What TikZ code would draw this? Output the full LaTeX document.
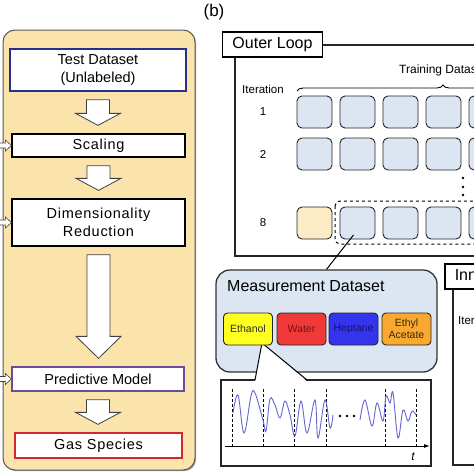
\documentclass[tikz,border=0pt]{standalone}
\usepackage{fontspec}
\setmainfont{Liberation Sans}
\newfontfamily\widefont[LetterSpace=5]{Liberation Sans}
\usetikzlibrary{positioning,calc,shadows,arrows.meta,decorations.pathreplacing}

\definecolor{panel}{RGB}{250,228,172}
\definecolor{cell}{RGB}{220,230,242}
\definecolor{celltan}{RGB}{252,235,196}
\definecolor{navy}{RGB}{43,47,140}
\definecolor{purp}{RGB}{106,76,156}
\definecolor{redb}{RGB}{208,40,46}
\definecolor{ethfill}{RGB}{255,255,31}
\definecolor{watfill}{RGB}{240,58,58}
\definecolor{hepfill}{RGB}{52,52,238}
\definecolor{eacfill}{RGB}{249,168,48}
\definecolor{ethtext}{RGB}{42,42,42}
\definecolor{wattext}{RGB}{122,16,16}
\definecolor{heptext}{RGB}{20,20,104}
\definecolor{eactext}{RGB}{58,42,16}
\definecolor{signal}{RGB}{100,100,210}

\tikzset{
  softshadow/.style={drop shadow={shadow xshift=1.2pt, shadow yshift=-1.2pt, opacity=0.35, fill=black}},
  panelbox/.style={draw=black!65, line width=1pt, fill=panel, rounded corners=12pt, softshadow},
  stepbox/.style={draw=black, line width=1.3pt, fill=white, inner sep=0pt, softshadow,
    font=\fontsize{14.5}{17.5}\selectfont},
  fatline/.style={draw=black!75, line width=0.8pt, fill=white},
  framebox/.style={draw=black!85, line width=1.3pt, fill=white, softshadow},
  titlebox/.style={draw=black, line width=1.5pt, fill=white, inner xsep=10pt, minimum height=25pt,
    font=\fontsize{16}{19}\selectfont},
  iterlabel/.style={font=\fontsize{11.5}{13}\selectfont, inner sep=0pt},
  cellbox/.style={draw=black!85, line width=0.9pt, fill=cell, rounded corners=5pt,
    minimum width=35pt, minimum height=32pt, inner sep=0pt},
  gasbox/.style={draw=black!85, line width=0.9pt, rounded corners=4pt, minimum width=49pt,
    minimum height=32pt, inner sep=0pt, align=center, font=\fontsize{10.5}{12}\selectfont},
  tick/.style={black, line width=0.9pt, dash pattern=on 3pt off 2pt},
}

% block arrow between two boxes of the pipeline
\newcommand\fatarrow[3][12pt]{%
  \draw[fatline] let \p1=($(#2.south)+(0,8)$), \p2=($(#3.north)+(0,-8)$) in
    (\x1-11.5pt,\y1) -- (\x1+11.5pt,\y1) -- (\x1+11.5pt,\y2+#1) -- (\x1+22.5pt,\y2+#1)
    -- (\x1,\y2) -- (\x1-22.5pt,\y2+#1) -- (\x1-11.5pt,\y2+#1) -- cycle;}
% small arrow coming in from the left
\newcommand\sidearrow[1]{%
  \draw[fatline, line width=0.6pt] let \p1=(#1.west) in
    (\x1-13pt,\y1+2.5pt) -- (\x1-6pt,\y1+2.5pt) -- (\x1-6pt,\y1+5.5pt) -- (\x1,\y1)
    -- (\x1-6pt,\y1-5.5pt) -- (\x1-6pt,\y1-2.5pt) -- (\x1-13pt,\y1-2.5pt) -- cycle;}

\begin{document}
\begin{tikzpicture}[x=1pt, y=-1pt]
  \useasboundingbox (0,0) rectangle (474,474);
  \clip (0,0) rectangle (474,474);

  % (a) prediction pipeline
  \node[panelbox, minimum width=192pt, minimum height=440pt] (panel) at (99,250) {};
  \node[stepbox, draw=navy, minimum width=176pt, minimum height=42pt, align=center]
    (test) at (98,70) {Test Dataset\\(Unlabeled)};
  \node[stepbox, minimum width=173pt, minimum height=23pt] (scale) at (98.5,145.5) {\widefont Scaling};
  \node[stepbox, minimum width=173pt, minimum height=47pt, align=center]
    (dimred) at (98.5,222.5) {\widefont Dimensionality\\\widefont Reduction};
  \node[stepbox, draw=purp, minimum width=172pt, minimum height=24pt] (pred) at (98,379) {Predictive Model};
  \node[stepbox, draw=redb, minimum width=167pt, minimum height=25pt] (gas) at (98.5,445.5) {\widefont Gas Species};

  \fatarrow{test}{scale}
  \fatarrow{scale}{dimred}
  \fatarrow[22pt]{dimred}{pred}
  \fatarrow{pred}{gas}
  \sidearrow{scale}
  \sidearrow{dimred}
  \sidearrow{pred}

  % (b) outer loop
  \node[font=\fontsize{17}{20}\selectfont, inner sep=0pt] (blabel) at (214,12) {(b)};
  \draw[framebox] (235,45) rectangle (520,256);
  \node[titlebox] (outer) at (272.5,44.5) {Outer Loop};

  \node[iterlabel] (iter) at (263,89) {Iteration};
  \node[font=\fontsize{12}{14}\selectfont, inner sep=0pt] (train) at (443,70) {Training Dataset};
  \draw[line width=0.9pt, decorate, decoration={brace, amplitude=6pt}] (297,91) -- (589,91);

  \foreach \row/\y in {1/112, 2/154} {
    \node[iterlabel] (n\row) at (263,\y) {\row};
    \foreach \i in {1,...,5}
      \node[cellbox] (c\row\i) at ({271.5+43*\i},\y) {};
  }
  \node[iterlabel] (n8) at (263,223) {8};
  \node[cellbox, fill=celltan] (c81) at (314.5,223) {};
  \draw[line width=1pt, dashed, rounded corners=5pt] (335,201) rectangle (520,244);
  \foreach \i in {2,...,5}
    \node[cellbox] (c8\i) at ({271.5+43*\i},223) {};
  \foreach \y in {178,187,195}
    \fill (463,\y) circle (1.4pt);

  % measurement dataset
  \node[draw=black!80, line width=1.3pt, fill=cell, rounded corners=14pt,
    minimum width=221pt, minimum height=102pt] (meas) at (326.5,321) {};
  \draw[line width=1pt] ($(c82.center)+(-4,12)$) -- (meas.north);
  \node[font=\fontsize{16}{19}\selectfont, anchor=west, inner sep=0pt] (meastitle) at (227,286) {Measurement Dataset};

  % one measured signal
  \node[framebox, minimum width=210pt, minimum height=86pt] (sigbox) at (326,423) {};
  \coordinate (tip) at (262,343);
  \coordinate (cl) at (255,380);
  \coordinate (cr) at (307,380);
  \fill[white] (tip) -- ($(cl)+(0,1.5)$) -- ($(cr)+(0,1.5)$) -- cycle;
  \draw[line width=1pt] (cl) -- (tip) -- (cr);

  \foreach \name/\x/\fc/\tc/\txt in {eth/248/ethfill/ethtext/Ethanol, wat/301.5/watfill/wattext/Water,
      hep/353.5/hepfill/heptext/Heptane, eac/406.5/eacfill/eactext/{Ethyl\\Acetate}}
    \node[gasbox, fill=\fc, text=\tc] (\name) at (\x,329) {\txt};

  \coordinate (t0) at (225,446);
  \coordinate (t1) at (430,446);
  \draw[line width=1pt, -{Latex[length=6pt,width=4pt]}] (t0) -- (t1);
  \node[font=\fontsize{12}{14}\selectfont\itshape, inner sep=0pt] (tlabel) at (413,457) {t};
  \foreach \x in {232,263,294,326,385,416}
    \draw[tick] (\x,389) -- (\x,446);
  \draw[signal, line width=0.9pt] plot[smooth, tension=0.6] coordinates {
    (233,413) (238,395) (244,433) (251,396) (255,393) (263,420) (266,431) (270,399)
    (275,405) (280,418) (285,401) (290,415) (295,436) (301,401) (307,433) (315,400)
    (318,438) (325,400) (330,428) (333,415)};
  \draw[signal, line width=0.9pt] plot[smooth, tension=0.6] coordinates {
    (360,420) (365,400) (372,426) (377,403) (383,421) (386,396) (390,403) (393,393)
    (398,438) (403,410) (408,421) (412,411) (416,415)};
  \foreach \x in {340,347,354}
    \fill (\x,416) circle (1.4pt);

  % inner loop
  \draw[framebox] (453,277) rectangle (520,465);
  \node[titlebox, anchor=west] (inner) at (444,276.5) {Inner Loop};
  \node[iterlabel, anchor=west] (iter2) at (458,320) {Iteration};
\end{tikzpicture}
\end{document}
